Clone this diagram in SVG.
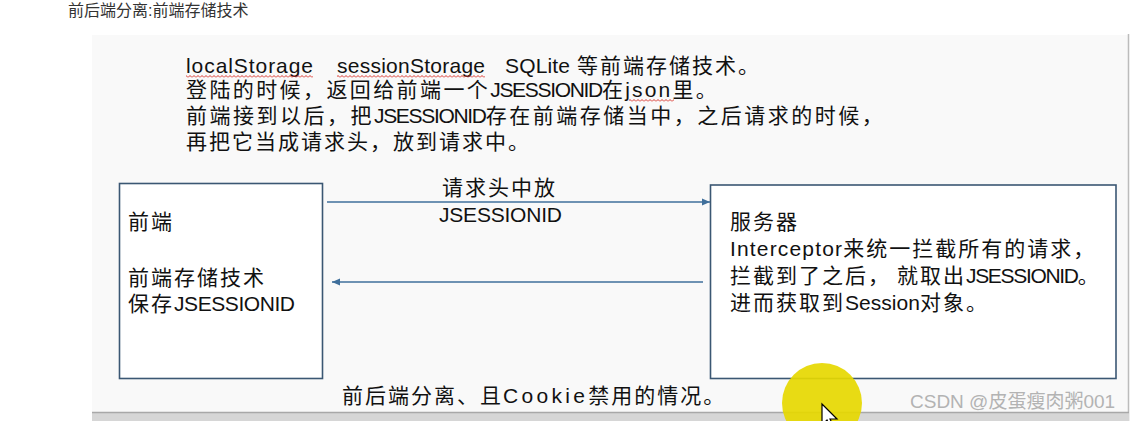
<svg xmlns="http://www.w3.org/2000/svg" width="1132" height="421" viewBox="0 0 1132 421">
<style>
.t{font-family:"Liberation Sans","Noto Sans CJK SC",sans-serif;fill:#111;}
.c{font-size:21px;letter-spacing:2px;}
.l{font-size:21px;letter-spacing:0;}
.box{fill:#ffffff;stroke:#3b5773;stroke-width:1.6;}
.arr{stroke:#3f6f9b;stroke-width:1.6;fill:none;}
</style>
<defs>
<marker id="ah" markerUnits="userSpaceOnUse" markerWidth="9" markerHeight="8" refX="8" refY="4" orient="auto">
<path d="M0,0.5 L8,4 L0,7.5 z" fill="#3f6f9b"/>
</marker>
<pattern id="wv" width="4" height="3" patternUnits="userSpaceOnUse">
<path d="M0,2.5 L2,0.5 L4,2.5" stroke="#d9342b" fill="none" stroke-width="1"/>
</pattern>
</defs>
<rect width="1132" height="421" fill="#ffffff"/>
<text x="68" y="16" style="font-family:'Liberation Sans','Noto Sans CJK SC',sans-serif;font-size:16px;fill:#333;">前后端分离:前端存储技术</text>
<rect x="92" y="35" width="1036" height="377" fill="#f9f9f9"/>
<line x1="1128.5" y1="34" x2="1128.5" y2="421" stroke="#bcbcbc" stroke-width="1.5"/>
<rect x="92" y="412" width="1037" height="9" fill="#d6d6d6"/>
<line x1="92" y1="412.5" x2="1129" y2="412.5" stroke="#a8a8a8" stroke-width="1.5"/>

<g id="notes">
<text class="t c" y="73"><tspan x="186" class="l" textLength="127">localStorage</tspan><tspan x="337" class="l" textLength="148">sessionStorage</tspan><tspan x="505" class="l" textLength="65">SQLite</tspan><tspan x="577">等前端存储技术。</tspan></text>
<text class="t c" x="186" y="97" style="letter-spacing:2.4px">登陆的时候，返回给前端一个<tspan class="l" textLength="113">JSESSIONID</tspan>在<tspan class="l" textLength="45">json</tspan>里。</text>
<text class="t c" x="186" y="123" style="letter-spacing:2.5px">前端接到以后，把<tspan class="l" textLength="113">JSESSIONID</tspan>存在前端存储当中，之后请求的时候，</text>
<text class="t c" x="186" y="149">再把它当成请求头，放到请求中。</text>
<rect x="186" y="75" width="127" height="3" fill="url(#wv)"/>
<rect x="337" y="75" width="148" height="3" fill="url(#wv)"/>
<rect x="629" y="99" width="45" height="3" fill="url(#wv)"/>
</g>

<g id="frontend">
<rect class="box" x="119.5" y="183.5" width="203" height="195"/>
<text class="t c" x="128" y="229">前端</text>
<text class="t c" x="128" y="285">前端存储技术</text>
<text class="t c" x="128" y="311">保存<tspan class="l" textLength="121">JSESSIONID</tspan></text>
</g>

<g id="server">
<rect class="box" x="710.5" y="185" width="405.5" height="193.5"/>
<text class="t c" x="730" y="229">服务器</text>
<text class="t c" x="730" y="256"><tspan class="l" textLength="112">Interceptor</tspan>来统一拦截所有的请求，</text>
<text class="t c" x="730" y="283">拦截到了之后，<tspan x="897">就取出</tspan><tspan class="l" textLength="113">JSESSIONID</tspan>。</text>
<text class="t c" x="730" y="310">进而获取到<tspan class="l" textLength="75">Session</tspan>对象。</text>
</g>

<g id="connectors">
<line class="arr" x1="327" y1="202" x2="710" y2="202" marker-end="url(#ah)"/>
<line class="arr" x1="703" y1="282" x2="332" y2="282" marker-end="url(#ah)"/>
<text class="t c" x="442" y="195">请求头中放</text>
<text class="t l" x="439" y="222" textLength="123">JSESSIONID</text>
</g>

<g id="caption">
<text class="t c" x="342" y="403">前后端分离、且<tspan class="l" textLength="82">Cookie</tspan>禁用的情况。</text>
</g>

<text x="910" y="408" style="font-family:'Liberation Sans','Noto Sans CJK SC',sans-serif;font-size:19px;fill:#b3b3b3;">CSDN @皮蛋瘦肉粥001</text>

<g id="pointer">
<circle cx="822" cy="403" r="40" fill="#e6d800" opacity="0.92"/>
<polygon points="822,404 822,425 827,420 831,428 834,427 830,419 837,419" fill="#ffffff" stroke="#000" stroke-width="1.2"/>
</g>
</svg>
